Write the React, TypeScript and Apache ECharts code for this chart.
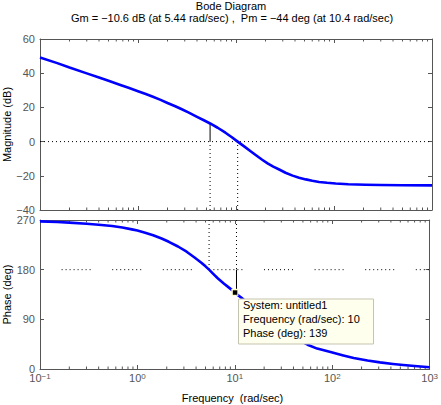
import React, { useEffect, useRef } from "react";
import * as echarts from "echarts";

// ---- texts ----
const titleLine1 = "Bode Diagram";
const titleLine2 = "Gm = −10.6 dB (at 5.44 rad/sec) ,  Pm = −44 deg (at 10.4 rad/sec)";
const magLabel = "Magnitude (dB)";
const phaseLabel = "Phase (deg)";
const freqLabel = "Frequency  (rad/sec)";

// ---- magnitude curve (rad/sec, dB) ----
const magFreq = [0.1, 0.15, 0.2, 0.3, 0.4, 0.5, 0.65, 0.8, 1.0, 1.2, 1.42, 1.7, 2.0, 2.4, 2.8, 3.3, 4.0, 4.7, 5.44, 6.5, 7.8, 9.0, 10.4, 12.3, 14.2, 16.0, 18.5, 21.0, 24.0, 27.6, 32.0, 37.8, 44.0, 51.6, 60.0, 70.5, 85.0, 104, 140, 210, 300, 500, 1000];
const magDb = [49.2, 45.9, 43.3, 39.9, 37.5, 35.6, 33.3, 31.5, 29.5, 27.8, 26.2, 24.4, 22.6, 20.7, 18.9, 16.9, 14.5, 12.5, 10.6, 8.1, 5.2, 2.7, 0, -3.1, -5.8, -8.0, -10.6, -12.7, -14.6, -16.3, -18.2, -19.9, -21.1, -22.1, -22.9, -23.6, -24.1, -24.5, -24.9, -25.2, -25.4, -25.5, -25.6];

// ---- phase curve (rad/sec, deg) ----
const phaseFreq = [0.1, 0.15, 0.2, 0.3, 0.4, 0.55, 0.7, 0.877, 1.0, 1.2, 1.45, 1.77, 2.1, 2.61, 3.2, 3.86, 4.5, 5.0, 5.44, 6.0, 6.67, 7.7, 8.77, 10, 10.4, 12, 15, 20, 25, 30, 40, 48, 55.8, 70, 96, 130, 166, 230, 309, 420, 535, 700, 1000];
const phaseDeg = [267.5, 266.3, 265.2, 263.2, 261.5, 259, 256.3, 253, 250.8, 247, 242.5, 236.5, 230.5, 222, 212.5, 202, 193, 186, 180, 172.5, 164.5, 155, 147, 139, 136, 127.5, 113, 95, 82, 72, 57, 50, 44, 37, 30.7, 24.5, 19.9, 15.3, 12, 9.2, 7.2, 5.4, 3.3];

// ---- margins / reference lines ----
const gmFreq = 5.44;
const gmDb = 10.6;
const pmFreq = 10.4;
const pmPhase = 136;
const refDb = 0;
const refPhase = 180;

// ---- axes ----
const xMin = 0.1;
const xMax = 1000;
const magMin = -40;
const magMax = 60;
const magStep = 20;
const phMin = 0;
const phMax = 270;
const phStep = 90;
const minorTicks = [0.2, 0.3, 0.4, 0.5, 0.6, 0.7, 0.8, 0.9, 2, 3, 4, 5, 6, 7, 8, 9, 20, 30, 40, 50, 60, 70, 80, 90, 200, 300, 400, 500, 600, 700, 800, 900];

// ---- data tip ----
const tipFreq = 10;
const tipPhase = 139;
const tipLines = ["System: untitled1", "Frequency (rad/sec): 10", "Phase (deg): 139"];

const AX = "#555555";
const FONT = "'Liberation Sans', Arial, Helvetica, sans-serif";

const minus = (v: number) => (v < 0 ? "−" + Math.abs(v) : String(v));

function xAxisCfg(gridIndex: number, position: string, labels: boolean) {
  return {
    type: "log",
    logBase: 10,
    gridIndex,
    position,
    min: xMin,
    max: xMax,
    axisLine: { show: true, onZero: false, lineStyle: { color: AX, width: 1 } },
    axisTick: { show: true, inside: true, length: 4, lineStyle: { color: AX, width: 1 } },
    axisLabel: labels
      ? {
          show: true,
          margin: 3,
          formatter: (v: number) => {
            const e = Math.round(Math.log10(v));
            return "{b|10}{s|" + minus(e) + "}";
          },
          rich: {
            b: { fontSize: 11, lineHeight: 12, color: AX, fontFamily: FONT },
            s: { fontSize: 8, lineHeight: 4, verticalAlign: "top", color: AX, fontFamily: FONT },
          },
        }
      : { show: false },
    splitLine: { show: false },
    minorTick: { show: false },
  };
}

function yAxisCfg(gridIndex: number, position: string, min: number, max: number, interval: number, labels: boolean) {
  return {
    type: "value",
    gridIndex,
    position,
    min,
    max,
    interval,
    axisLine: { show: true, onZero: false, lineStyle: { color: AX, width: 1 } },
    axisTick: { show: true, inside: true, length: 4, lineStyle: { color: AX, width: 1 } },
    axisLabel: labels
      ? { show: true, margin: 5, color: AX, fontSize: 11, lineHeight: 9, fontFamily: FONT, formatter: (v: number) => minus(v) }
      : { show: false },
    splitLine: { show: false },
  };
}

const minorRender = (params: any, api: any) => {
  const x = api.coord([api.value(0), api.value(1)])[0];
  const cs = params.coordSys;
  const st = { stroke: AX, lineWidth: 1 };
  return {
    type: "group",
    children: [
      { type: "line", shape: { x1: x, y1: cs.y, x2: x, y2: cs.y + 2.5 }, style: st },
      { type: "line", shape: { x1: x, y1: cs.y + cs.height, x2: x, y2: cs.y + cs.height - 2.5 }, style: st },
    ],
  };
};

const tipRender = (_params: any, api: any) => {
  const p = api.coord([api.value(0), api.value(1)]);
  const bx = p[0] + 3.7;
  const by = p[1] + 6.7;
  return {
    type: "group",
    children: [
      { type: "rect", shape: { x: p[0] - 3.5, y: p[1] - 3.5, width: 7, height: 7 }, style: { fill: "#ffffc8" } },
      { type: "rect", shape: { x: p[0] - 2, y: p[1] - 2, width: 4.5, height: 4.5 }, style: { fill: "#000000" } },
      {
        type: "rect",
        shape: { x: bx, y: by, width: 135, height: 45 },
        style: { fill: "#ffffee", stroke: "#c4c4b0", lineWidth: 1 },
      },
      ...tipLines.map((t, i) => ({
        type: "text",
        x: bx + 4.5,
        y: by + 6.5 + i * 14,
        style: { text: t, fill: "#000000", font: "11px " + FONT, textAlign: "left", textVerticalAlign: "middle" },
      })),
    ],
  };
};

function seg(name: string, xi: number, yi: number, pts: number[][], type: any, extra: any = {}) {
  return {
    name,
    type: "line",
    xAxisIndex: xi,
    yAxisIndex: yi,
    data: pts,
    symbol: "none",
    silent: true,
    lineStyle: { color: "#000000", width: 1, type, ...extra },
    z: 3,
  };
}

export default function App() {
  const ref = useRef<HTMLDivElement>(null);
  useEffect(() => {
    if (!ref.current) return;
    const chart = echarts.init(ref.current, undefined, { renderer: "svg" });
    const dotted = [1, 3];
    const patterned = [1, 3, 1, 3, 1, 3, 1, 3, 1, 3, 1, 3, 1, 3, 1, 21.6];
    chart.setOption({
      animation: false,
      backgroundColor: "#ffffff",
      textStyle: { fontFamily: FONT },
      grid: [
        { left: 40, top: 39, width: 392, height: 171, containLabel: false },
        { left: 40, top: 220, width: 392, height: 149, containLabel: false },
      ],
      xAxis: [xAxisCfg(0, "bottom", false), xAxisCfg(0, "top", false), xAxisCfg(1, "bottom", true), xAxisCfg(1, "top", false)],
      yAxis: [
        yAxisCfg(0, "left", magMin, magMax, magStep, true),
        yAxisCfg(0, "right", magMin, magMax, magStep, false),
        yAxisCfg(1, "left", phMin, phMax, phStep, true),
        yAxisCfg(1, "right", phMin, phMax, phStep, false),
      ],
      graphic: [
        { type: "text", x: 231, y: 6, style: { text: titleLine1, fill: "#000", font: "11px " + FONT, textAlign: "center", textVerticalAlign: "middle" } },
        { type: "text", x: 232, y: 18, style: { text: titleLine2, fill: "#000", font: "11px " + FONT, textAlign: "center", textVerticalAlign: "middle" } },
        { type: "text", x: 7, y: 124.5, rotation: Math.PI / 2, style: { text: magLabel, fill: "#000", font: "11px " + FONT, textAlign: "center", textVerticalAlign: "middle" } },
        { type: "text", x: 7, y: 294.5, rotation: Math.PI / 2, style: { text: phaseLabel, fill: "#000", font: "11px " + FONT, textAlign: "center", textVerticalAlign: "middle" } },
        { type: "text", x: 232.5, y: 397.5, style: { text: freqLabel, fill: "#000", font: "11px " + FONT, textAlign: "center", textVerticalAlign: "middle" } },
      ],
      series: [
        {
          type: "custom",
          xAxisIndex: 0,
          yAxisIndex: 0,
          renderItem: minorRender,
          data: minorTicks.map((v) => [v, refDb]),
          silent: true,
          clip: false,
          z: 2,
        },
        {
          type: "custom",
          xAxisIndex: 2,
          yAxisIndex: 2,
          renderItem: minorRender,
          data: minorTicks.map((v) => [v, refPhase]),
          silent: true,
          clip: false,
          z: 2,
        },
        seg("0 dB", 0, 0, [[xMin, refDb], [xMax, refDb]], dotted),
        seg("gm dotted", 0, 0, [[gmFreq, magMin], [gmFreq, refDb]], dotted),
        seg("gm solid", 0, 0, [[gmFreq, refDb], [gmFreq, gmDb]], "solid"),
        seg("pm dotted top", 0, 0, [[pmFreq, magMin], [pmFreq, refDb]], dotted),
        {
          name: "Magnitude",
          type: "line",
          xAxisIndex: 0,
          yAxisIndex: 0,
          data: magFreq.map((f, i) => [f, magDb[i]]),
          symbol: "none",
          silent: true,
          lineStyle: { color: "#0000ff", width: 2.6, join: "round" },
          z: 5,
        },
        seg("180 deg", 2, 2, [[xMin, refPhase], [xMax, refPhase]], patterned, { dashOffset: 28.6 }),
        seg("gm dotted bottom", 2, 2, [[gmFreq, phMax], [gmFreq, refPhase]], dotted),
        seg("pm dotted bottom", 2, 2, [[pmFreq, phMax], [pmFreq, refPhase]], dotted),
        seg("pm solid", 2, 2, [[pmFreq, refPhase], [pmFreq, pmPhase]], "solid"),
        {
          name: "Phase",
          type: "line",
          xAxisIndex: 2,
          yAxisIndex: 2,
          data: phaseFreq.map((f, i) => [f, phaseDeg[i]]),
          symbol: "none",
          silent: true,
          lineStyle: { color: "#0000ff", width: 2.6, join: "round" },
          z: 5,
        },
        {
          type: "custom",
          xAxisIndex: 2,
          yAxisIndex: 2,
          renderItem: tipRender,
          data: [[tipFreq, tipPhase]],
          silent: true,
          clip: false,
          z: 20,
        },
      ],
    });
    return () => chart.dispose();
  }, []);
  return <div ref={ref} style={{ position: "absolute", left: 0, top: 0, width: 441, height: 405 }} />;
}
